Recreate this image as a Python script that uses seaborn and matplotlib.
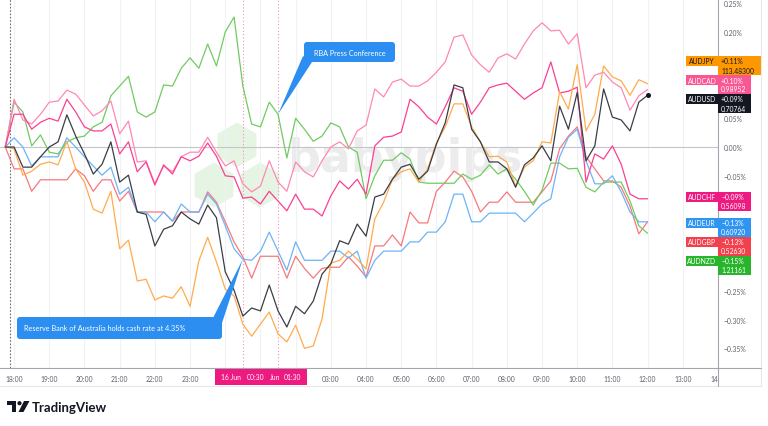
import numpy as np
import pandas as pd
import matplotlib.pyplot as plt
import seaborn as sns
from matplotlib.patches import Rectangle, FancyBboxPatch, Polygon, RegularPolygon, Circle

# 15-minute closes, % change since 17:45 (15 Jun) up to 12:00 (16 Jun)
times = pd.date_range("2024-06-15 17:45", periods=74, freq="15min")

audjpy = [0, -0.003, -0.049, -0.042, -0.03, -0.026, -0.031, 0.01, -0.038, -0.061,
          -0.108, -0.115, -0.077, -0.177, -0.162, -0.233, -0.23, -0.266, -0.259, -0.263,
          -0.243, -0.277, -0.198, -0.157, -0.2, -0.247, -0.259, -0.308, -0.329, -0.308,
          -0.287, -0.325, -0.339, -0.31, -0.35, -0.346, -0.299, -0.202, -0.197, -0.181,
          -0.195, -0.212, -0.125, -0.096, -0.056, -0.043, -0.038, -0.061, -0.038, 0.007,
          0.035, 0.075, 0.075, 0.035, 0.009, -0.017, -0.016, -0.026, -0.068, -0.035,
          -0.024, 0.009, 0.007, 0.096, 0.066, 0.143, 0.028, 0.057, 0.141, 0.122,
          0.115, 0.09, 0.117, 0.11]
audcad = [0, 0.083, 0.047, 0.04, 0.057, 0.078, 0.08, 0.099, 0.092, 0.073,
          0.054, 0.063, 0.08, 0.023, 0.045, -0.026, -0.024, -0.064, -0.033, -0.043,
          -0.017, -0.009, -0.009, 0.017, -0.009, -0.033, -0.024, -0.064, -0.078, -0.068,
          -0.024, -0.061, -0.077, -0.026, -0.043, -0.052, -0.024, 0, 0.009, -0.003,
          0.028, 0.038, 0.101, 0.087, 0.113, 0.118, 0.106, 0.106, 0.115, 0.13,
          0.148, 0.191, 0.195, 0.16, 0.143, 0.13, 0.155, 0.162, 0.153, 0.179,
          0.202, 0.216, 0.202, 0.203, 0.179, 0.197, 0.103, 0.125, 0.13, 0.113,
          0.103, 0.064, 0.089, 0.10]
audusd = [0, 0, -0.035, -0.035, -0.017, 0, 0.009, 0.056, 0.019, -0.012,
          -0.047, -0.03, 0.009, -0.061, -0.049, -0.113, -0.117, -0.172, -0.143, -0.137,
          -0.113, -0.125, -0.134, -0.101, -0.123, -0.217, -0.249, -0.294, -0.28, -0.285,
          -0.24, -0.285, -0.313, -0.277, -0.29, -0.268, -0.221, -0.203, -0.163, -0.169,
          -0.134, -0.155, -0.087, -0.082, -0.056, -0.035, -0.03, -0.056, -0.042, 0.005,
          0.042, 0.108, 0.103, 0.031, 0.009, -0.026, -0.026, -0.038, -0.07, -0.031,
          -0.019, 0.002, -0.024, 0.071, 0.031, 0.095, -0.024, 0.002, 0.101, 0.052,
          0.047, 0.028, 0.078, 0.09]
audchf = [0, 0.057, 0.057, 0.031, 0.043, 0.05, 0.045, 0.083, 0.061, 0.035,
          0.028, 0.028, 0.04, -0.012, 0.009, -0.043, -0.026, -0.066, -0.031, -0.047,
          -0.017, -0.024, -0.016, 0.007, -0.016, -0.05, -0.052, -0.089, -0.087, -0.099,
          -0.077, -0.094, -0.111, -0.082, -0.108, -0.108, -0.12, -0.085, -0.059, -0.073,
          -0.056, -0.082, 0.002, 0.017, 0.019, 0.026, 0.083, 0.07, 0.052, 0.04,
          0.07, 0.103, 0.097, 0.057, 0.078, 0.103, 0.108, 0.111, 0.097, 0.083,
          0.094, 0.103, 0.148, 0.094, 0.097, 0.104, -0.061, -0.012, -0.021, 0.002,
          -0.03, -0.082, -0.09, -0.09]
audeur = [0, 0.016, 0, -0.033, -0.017, -0.017, -0.017, 0.016, 0, -0.017,
          -0.033, -0.049, -0.035, -0.082, -0.07, -0.113, -0.113, -0.13, -0.113, -0.129,
          -0.099, -0.113, -0.113, -0.082, -0.099, -0.137, -0.177, -0.195, -0.197, -0.181,
          -0.148, -0.181, -0.214, -0.165, -0.197, -0.197, -0.197, -0.181, -0.181, -0.193,
          -0.181, -0.228, -0.197, -0.181, -0.181, -0.181, -0.165, -0.165, -0.148, -0.148,
          -0.13, -0.082, -0.082, -0.13, -0.13, -0.115, -0.115, -0.115, -0.115, -0.13,
          -0.115, -0.099, -0.09, -0.017, 0.017, 0.031, -0.024, -0.064, -0.064, -0.05,
          -0.078, -0.113, -0.13, -0.13]
audgbp = [0, -0.038, -0.038, -0.077, -0.057, -0.057, -0.057, -0.057, -0.038, -0.05,
          -0.077, -0.057, -0.057, -0.094, -0.077, -0.113, -0.113, -0.113, -0.113, -0.129,
          -0.113, -0.113, -0.113, -0.078, -0.096, -0.13, -0.165, -0.191, -0.228, -0.19,
          -0.19, -0.19, -0.228, -0.19, -0.211, -0.228, -0.211, -0.209, -0.209, -0.191,
          -0.207, -0.226, -0.172, -0.172, -0.153, -0.172, -0.113, -0.132, -0.132, -0.077,
          -0.061, -0.042, -0.052, -0.077, -0.113, -0.096, -0.096, -0.078, -0.096, -0.096,
          -0.096, -0.078, -0.059, -0.003, 0.019, 0.035, -0.017, -0.038, -0.059, -0.059,
          -0.07, -0.103, -0.151, -0.13]
audnzd = [0, 0.078, 0.061, 0.002, 0.021, -0.009, -0.012, 0.009, 0.016, 0.019,
          0.035, 0.043, 0.089, 0.106, 0.123, 0.061, 0.052, 0.061, 0.108, 0.106,
          0.137, 0.155, 0.137, 0.179, 0.141, 0.2, 0.226, 0.106, 0.04, 0.035,
          0.078, 0.057, -0.019, 0.05, 0.031, 0.01, 0.019, 0.042, 0.035, 0,
          -0.009, -0.09, -0.05, -0.023, -0.023, -0.01, -0.021, -0.061, -0.063, -0.063,
          -0.063, -0.063, -0.047, -0.056, -0.049, -0.031, -0.047, -0.038, -0.056, -0.077,
          -0.101, -0.075, -0.028, -0.028, -0.038, -0.037, -0.07, -0.078, -0.061, -0.061,
          -0.061, -0.094, -0.137, -0.15]

pairs = ["AUDJPY", "AUDCAD", "AUDUSD", "AUDCHF", "AUDEUR", "AUDGBP", "AUDNZD"]
last_change = ["+0.11%", "+0.10%", "+0.09%", "\u22120.09%", "\u22120.13%", "\u22120.13%", "\u22120.15%"]
last_price = ["113.48300", "0.98952", "0.70764", "0.56098", "0.60920", "0.52630", "1.21161"]

line_colors = {"AUDJPY": "#ffab4d", "AUDCAD": "#ff88b4", "AUDUSD": "#3a3d46",
               "AUDCHF": "#fb3f93", "AUDEUR": "#6cb4f7", "AUDGBP": "#f7787c",
               "AUDNZD": "#70cb60"}
box_colors = {"AUDJPY": "#ff9800", "AUDCAD": "#fb5694", "AUDUSD": "#131722",
              "AUDCHF": "#ee1a82", "AUDEUR": "#2f95f3", "AUDGBP": "#f2404d",
              "AUDNZD": "#28b52b"}

hours = (times - pd.Timestamp("2024-06-15 18:00")) / pd.Timedelta(hours=1)
wide = pd.DataFrame({"hours": hours, "AUDJPY": audjpy, "AUDCAD": audcad, "AUDUSD": audusd,
                     "AUDCHF": audchf, "AUDEUR": audeur, "AUDGBP": audgbp, "AUDNZD": audnzd})
long = wide.melt(id_vars="hours", var_name="pair", value_name="change")

sns.set_style("white")
plt.rcParams["font.family"] = ["Lato", "DejaVu Sans"]

W, H = 768, 427
fig = plt.figure(figsize=(W / 100, H / 100), dpi=100)

# background layer for watermark
bg = fig.add_axes([0, 0, 1, 1])
bg.set_xlim(0, W)
bg.set_ylim(H, 0)
bg.axis("off")
for cx, cy in [(237, 146), (214, 186), (260, 186)]:
    bg.add_patch(RegularPolygon((cx, cy), 6, radius=22.5, orientation=0,
                                fc="#e6f5e3", ec="none"))
bg.text(405, 160, "babypips", fontsize=33, fontweight="bold", color="#ececec",
        ha="center", va="center", family="DejaVu Sans")

ax = fig.add_axes([0, 58 / H, 718 / W, 369 / H])
ax.patch.set_alpha(0)
sns.lineplot(data=long, x="hours", y="change", hue="pair", palette=line_colors,
             hue_order=["AUDGBP", "AUDEUR", "AUDNZD", "AUDCAD", "AUDCHF", "AUDJPY", "AUDUSD"],
             lw=0.9, legend=False, ax=ax)
ax.plot(hours[-1], audusd[-1], "o", ms=2.6, color="#131722")

ax.set_xlim(-0.4, 20.0)
ax.set_ylim(-0.3843, 0.2574)
ax.set_xlabel("")
ax.set_ylabel("")

xt = list(range(0, 21))
xl = ["18:00", "19:00", "20:00", "21:00", "22:00", "23:00", "", "", "",
      "03:00", "04:00", "05:00", "06:00", "07:00", "08:00", "09:00", "10:00",
      "11:00", "12:00", "13:00", "14"]
ax.set_xticks(xt)
ax.set_xticklabels(xl)
for lbl in ax.get_xticklabels():
    if lbl.get_text() == "14":
        lbl.set_ha("right")

# scale marks hidden behind the pair labels are left blank
yt = np.round(np.arange(-0.35, 0.2501, 0.05), 2)
covered = [0.15, 0.10, -0.10, -0.15, -0.20]
ax.yaxis.tick_right()
ax.set_yticks(yt)
ax.set_yticklabels(["" if v in covered else ("\u2212" if v < 0 else "") + f"{abs(v):.2f}%"
                    for v in yt])
ax.tick_params(axis="both", length=0, labelsize=4.9, labelcolor="#5d606b")
ax.tick_params(axis="x", pad=5)
ax.tick_params(axis="y", pad=4)

ax.grid(axis="x", color="#f0f2f6", lw=0.8)
ax.grid(axis="y", visible=False)
for s in ["top", "left"]:
    ax.spines[s].set_visible(False)
for s in ["bottom", "right"]:
    ax.spines[s].set_color("#a3a6ae")
    ax.spines[s].set_linewidth(0.8)

ax.axhline(0, color="#c4c6cc", lw=0.8, zorder=1)
ax.axvline(-0.12, color="#707070", lw=0.8, ls=(0, (1.5, 1.5)), zorder=1)
for ev in [6.5, 7.5]:
    ax.axvline(ev, color="#f48fb8", lw=0.8, ls=(0, (1, 2)), zorder=1)

# top layer: price scale labels, callouts, branding
ov = fig.add_axes([0, 0, 1, 1])
ov.set_xlim(0, W)
ov.set_ylim(H, 0)
ov.axis("off")
fig.canvas.draw()


def to_px(x, y):
    dx, dy = ax.transData.transform((x, y))
    return dx, H - dy


# frame lines
ov.plot([0, 761], [387, 387], color="#e6e8ee", lw=0.8)
ov.plot([761, 761], [0, 387], color="#e6e8ee", lw=0.8)
ov.plot([718, 761], [369, 369], color="#a3a6ae", lw=0.8)
ov.plot([718, 718], [369, 387], color="#a3a6ae", lw=0.8)

# right-hand pair labels
label_tops = [57, 76, 95, 193, 219, 238, 257]
for p, top, chg, price in zip(pairs, label_tops, last_change, last_price):
    c = box_colors[p]
    tc = "#131722" if p == "AUDJPY" else "white"
    vw = 43 if p == "AUDJPY" else 33
    ov.add_patch(Rectangle((686, top), 32, 10, fc=c, ec="none"))
    ov.add_patch(Rectangle((718, top), vw, 19, fc=c, ec="none"))
    ov.text(702, top + 5, p, fontsize=4.9, color=tc, ha="center", va="center")
    ov.text(721, top + 5, chg, fontsize=4.9, color=tc, ha="left", va="center")
    ov.text(721, top + 14, price, fontsize=4.9, color=tc, ha="left", va="center")

# highlighted crosshair dates on the time axis
pink = "#ee1a82"
ov.add_patch(Rectangle((215, 369.5), 92, 16.5, fc=pink, ec="none"))
ov.text(231, 378, "16 Jun", fontsize=4.9, color="white", ha="center", va="center")
ov.text(256, 378, "00:30", fontsize=4.9, color="white", ha="center", va="center")
ov.text(275, 378, "Jun", fontsize=4.9, color="white", ha="center", va="center")
ov.text(293, 378, "01:30", fontsize=4.9, color="white", ha="center", va="center")

# callouts
blue = "#2b8ef0"
tx, ty = to_px(7.5, audnzd[31])
ov.add_patch(Polygon([(303, 57), (312, 63), (tx, ty)], fc=blue, ec="none"))
ov.add_patch(FancyBboxPatch((304, 43), 91, 20, boxstyle="round,pad=0,rounding_size=3",
                            fc=blue, ec="none"))
ov.text(349.5, 53, "RBA Press Conference", fontsize=5.2, color="white",
        ha="center", va="center")

tx, ty = to_px(6.5, audeur[27])
ov.add_patch(Polygon([(213, 319), (222, 324), (tx, ty)], fc=blue, ec="none"))
ov.add_patch(FancyBboxPatch((17, 318), 205, 22, boxstyle="round,pad=0,rounding_size=3",
                            fc=blue, ec="none"))
ov.text(24, 329, "Reserve Bank of Australia holds cash rate at 4.35%", fontsize=5.2,
        color="white", ha="left", va="center")

# TradingView branding
ov.add_patch(Polygon([(7, 402), (16, 402), (16, 413), (12, 413), (12, 406), (7, 406)],
                     fc="#131722", ec="none"))
ov.add_patch(Circle((19.5, 404.2), 2.1, fc="#131722", ec="none"))
ov.add_patch(Polygon([(24, 402), (29.5, 402), (23.5, 413), (18.5, 413)],
                     fc="#131722", ec="none"))
ov.text(32, 408, "TradingView", fontsize=9.5, fontweight="bold", color="#131722",
        ha="left", va="center")

fig.savefig("out.png", dpi=100)
